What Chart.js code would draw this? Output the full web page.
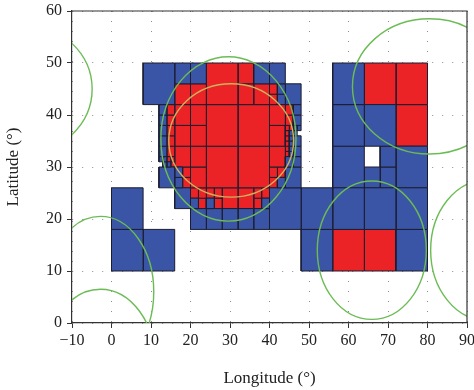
<!DOCTYPE html>
<html>
<head>
<meta charset="utf-8">
<script src="https://cdn.jsdelivr.net/npm/chart.js@4.4.1/dist/chart.umd.min.js"></script>
<style>
  html, body { margin: 0; padding: 0; background: #fff; }
</style>
</head>
<body>
<canvas id="gridChart" width="474" height="390"></canvas>
<script>
// axis ticks
const lonTicks = [-10, 0, 10, 20, 30, 40, 50, 60, 70, 80, 90];
const latTicks = [0, 10, 20, 30, 40, 50, 60];

// grid cells: [lon, lat, size] in degrees (lower-left corner)
const blueCells = [
  [0, 18, 8], [0, 10, 8], [8, 10, 8],
  [8, 42, 8], [16, 46, 4], [20, 46, 4], [36, 46, 4], [40, 46, 4],
  [42, 44, 2], [42, 42, 2], [44, 42, 4],
  [12, 40, 2], [12, 38, 2], [12, 36, 2], [12, 34, 2],
  [46, 40, 2], [46, 38, 2], [45, 36, 1], [46, 37, 1], [47, 37, 1], [46, 36, 1],
  [45, 35, 1], [45, 34, 1], [46, 34, 2],
  [12, 32, 2], [12, 31, 1], [13, 31, 1], [13, 30, 1], [14, 30, 1], [12, 26, 4],
  [16, 28, 2], [16, 26, 2],
  [45, 33, 1], [45, 32, 1], [46, 32, 2], [44, 30, 2], [46, 30, 2], [42, 26, 2], [44, 26, 4],
  [16, 22, 4], [20, 22, 2], [20, 18, 4], [24, 22, 2], [24, 18, 4], [28, 18, 4],
  [38, 22, 2], [32, 18, 4], [36, 18, 4], [40, 18, 8],
  [48, 18, 8], [48, 10, 8], [56, 18, 8], [64, 18, 8], [72, 18, 8], [72, 10, 8],
  [56, 42, 8], [56, 34, 8], [64, 34, 8], [56, 26, 8],
  [68, 30, 4], [64, 26, 4], [68, 26, 4], [72, 26, 8]
];
const redCells = [
  [16, 42, 4], [20, 42, 4], [24, 42, 8], [32, 46, 4], [32, 42, 4], [36, 42, 4],
  [40, 44, 2], [40, 42, 2],
  [14, 40, 2], [14, 38, 2], [14, 36, 2], [14, 34, 2],
  [16, 38, 4], [20, 38, 4], [16, 34, 4], [20, 34, 4], [24, 34, 8], [32, 34, 8],
  [40, 38, 4], [44, 40, 2], [44, 38, 2], [44, 37, 1], [45, 37, 1], [44, 36, 1],
  [44, 35, 1], [44, 34, 1], [40, 34, 4],
  [14, 32, 2], [14, 31, 1], [15, 31, 1], [15, 30, 1],
  [16, 30, 4], [20, 30, 4], [18, 28, 2], [18, 26, 2], [20, 26, 4],
  [24, 26, 8], [32, 26, 8], [40, 30, 4], [44, 33, 1], [44, 32, 1],
  [40, 28, 2], [42, 28, 2], [40, 26, 2],
  [20, 24, 2], [22, 24, 2], [22, 22, 2], [24, 24, 2], [26, 24, 2], [26, 22, 2],
  [28, 22, 4], [32, 22, 4], [36, 24, 2], [38, 24, 2], [36, 22, 2],
  [56, 10, 8], [64, 10, 8],
  [64, 42, 8], [72, 42, 8], [72, 34, 8]
];

// coverage circles: [centre lon, centre lat, radius lon, radius lat]
const greenCircles = [
  [29.6, 35.4, 17.1, 15.8],
  [80.5, 45.5, 19.5, 13],
  [-24.4, 45, 19.5, 13],
  [65.9, 14, 13.8, 13.3],
  [95, 14, 14.2, 13.5],
  [-2.8, 6, 13.5, 14.5],
  [-2.8, -8, 14, 14.5]
];
const innerCircles = [
  [30.3, 35.1, 15.8, 10.9]
];

const BLUE = '#3a55a5';
const RED = '#ec2326';
const EDGE = '#1b1d30';
const serif = "'Liberation Serif', 'DejaVu Serif', serif";

function cellDataset(c, color) {
  const lon = c[0], lat = c[1], s = c[2];
  return {
    data: [
      {x: lon, y: lat}, {x: lon + s, y: lat}, {x: lon + s, y: lat + s},
      {x: lon, y: lat + s}, {x: lon, y: lat}
    ],
    showLine: true,
    fill: 'shape',
    backgroundColor: color,
    borderColor: EDGE,
    borderWidth: 1,
    borderJoinStyle: 'miter',
    pointRadius: 0,
    tension: 0
  };
}

const datasets = blueCells.map(c => cellDataset(c, BLUE))
  .concat(redCells.map(c => cellDataset(c, RED)));

// circles are drawn through the scales, clipped to the plot area
const circlePlugin = {
  id: 'circles',
  afterDatasetsDraw(chart) {
    const {ctx, chartArea, scales: {x, y}} = chart;
    ctx.save();
    ctx.beginPath();
    ctx.rect(chartArea.left, chartArea.top, chartArea.width, chartArea.height);
    ctx.clip();
    function ring(c, color) {
      const cx = x.getPixelForValue(c[0]);
      const cy = y.getPixelForValue(c[1]);
      const rx = Math.abs(x.getPixelForValue(c[0] + c[2]) - cx);
      const ry = Math.abs(y.getPixelForValue(c[1] + c[3]) - cy);
      ctx.beginPath();
      ctx.ellipse(cx, cy, rx, ry, 0, 0, Math.PI * 2);
      ctx.strokeStyle = color;
      ctx.lineWidth = 1.4;
      ctx.stroke();
    }
    greenCircles.forEach(c => ring(c, '#6cbc55'));
    innerCircles.forEach(c => ring(c, '#cdb25c'));
    ctx.restore();
  },
  afterDraw(chart) {
    // top and right frame lines
    const {ctx, chartArea: a} = chart;
    ctx.save();
    ctx.strokeStyle = '#333';
    ctx.lineWidth = 1.2;
    ctx.beginPath();
    ctx.moveTo(a.left, a.top);
    ctx.lineTo(a.right, a.top);
    ctx.lineTo(a.right, a.bottom);
    ctx.stroke();
    ctx.restore();
  }
};

new Chart(document.getElementById('gridChart'), {
  type: 'scatter',
  data: { datasets: datasets },
  options: {
    responsive: false,
    animation: false,
    events: [],
    layout: { padding: { top: 11, right: 7, left: 0, bottom: 0 } },
    plugins: { legend: { display: false }, tooltip: { enabled: false } },
    scales: {
      x: {
        type: 'linear',
        min: -10,
        max: 90,
        afterBuildTicks: s => { s.ticks = lonTicks.map(v => ({value: v})); },
        afterFit: s => { s.height = 67; s.paddingLeft = 0; s.paddingRight = 0; },
        ticks: {
          color: '#222',
          padding: 3,
          maxRotation: 0,
          font: { family: serif, size: 16 },
          callback: v => v < 0 ? '\u2212' + Math.abs(v) : String(v)
        },
        grid: { color: '#8c8c8c', lineWidth: 1, tickLength: 5, tickColor: '#333', tickWidth: 1 },
        border: { display: true, color: '#333', width: 1.2, dash: [1, 9] },
        title: {
          display: true,
          text: 'Longitude (°)',
          color: '#222',
          font: { family: serif, size: 17 },
          padding: { top: 0, bottom: 1 }
        }
      },
      y: {
        type: 'linear',
        min: 0,
        max: 60,
        afterBuildTicks: s => { s.ticks = latTicks.map(v => ({value: v})); },
        afterFit: s => { s.width = 72; s.paddingTop = 0; s.paddingBottom = 0; },
        ticks: {
          color: '#222',
          padding: 5,
          font: { family: serif, size: 16 }
        },
        grid: { color: '#8c8c8c', lineWidth: 1, tickLength: 5, tickColor: '#333', tickWidth: 1 },
        border: { display: true, color: '#333', width: 1.2, dash: [1, 9] },
        title: {
          display: true,
          text: 'Latitude (°)',
          color: '#222',
          font: { family: serif, size: 17 },
          padding: { top: 3, bottom: 0 }
        }
      }
    }
  },
  plugins: [circlePlugin]
});
</script>
</body>
</html>
